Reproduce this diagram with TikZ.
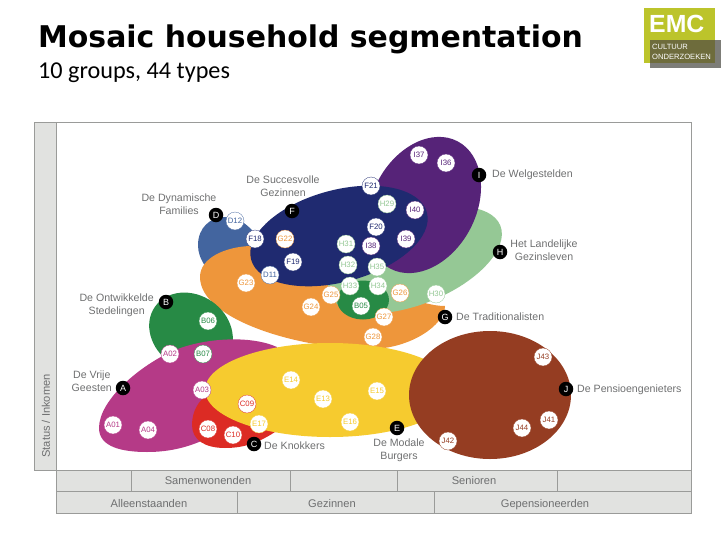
\documentclass[tikz,border=0pt]{standalone}
\usepackage{fontspec}
\setmainfont{Liberation Sans}
\newfontfamily\titlefont{DejaVu Sans}
\newfontfamily\subfont{Carlito}
\definecolor{cA}{HTML}{B53A87}
\definecolor{cB}{HTML}{278A45}
\definecolor{cC}{HTML}{DC2B24}
\definecolor{cD}{HTML}{43659F}
\definecolor{cE}{HTML}{F6CB2F}
\definecolor{cF}{HTML}{1F2A70}
\definecolor{cG}{HTML}{EE963B}
\definecolor{cH}{HTML}{95C895}
\definecolor{cI}{HTML}{562378}
\definecolor{cJ}{HTML}{953D22}
\definecolor{panel}{HTML}{E1E2E0}
\definecolor{rule}{HTML}{9A9B99}
\definecolor{lab}{HTML}{6E6F70}
\definecolor{emc}{HTML}{BCC42B}
\definecolor{emcgray}{HTML}{7D7D78}
\definecolor{emcolive}{HTML}{6E6C3C}
\tikzset{
  x=1pt,y=-1pt,
  band/.style={draw=rule,fill=panel,line width=.8pt},
  bandtext/.style={font=\fontsize{11.1}{13}\selectfont,text=lab,inner sep=0pt},
  lbl/.style={font=\fontsize{10.6}{12.8}\selectfont,text=lab,align=center,inner sep=0pt},
  tag/.style={circle,fill=black,text=white,minimum size=14.5pt,inner sep=0pt,font=\fontsize{9}{9}\selectfont},
  seg/.style={circle,fill=white,draw=#1,line width=.3pt,text=#1,minimum size=18pt,inner sep=0pt,font=\fontsize{7.8}{8}\selectfont},
}
\begin{document}
\begin{tikzpicture}
\useasboundingbox (0,0) rectangle (728,546);
% title
\node[anchor=base west,inner sep=0pt,font=\titlefont\bfseries\fontsize{29.9}{32}\selectfont] (title) at (38,47) {Mosaic household segmentation};
\node[anchor=base west,inner sep=0pt,font=\subfont\fontsize{24.2}{26}\selectfont] (sub) at (38,78) {10 groups, 44 types};
% logo
\fill[emc] (644,8) rectangle (715,63);
\fill[emcgray] (650,40) rectangle (721,68);
\fill[emcolive] (650,40) rectangle (715,63);
\node[anchor=base west,inner sep=0pt,text=white,font=\bfseries\fontsize{24.8}{26}\selectfont] (emclogo) at (649,32) {EMC};
\node[anchor=north west,inner sep=0pt,text=white,align=left,font=\fontsize{7.6}{10}\selectfont] (emcsub) at (652,43.5) {CULTUUR\\ONDERZOEKEN};
% frame
\draw[rule,line width=.9pt] (56,122) -- (691,122) -- (691,470);
\draw[band] (34,122) rectangle (56,470);
\node[bandtext,rotate=90] (status) at (46,416) {Status / Inkomen};
\draw[band] (56,470) rectangle (691,491);
\draw[band] (56,491) rectangle (691,513);
\draw[rule,line width=.8pt] (131,470) -- (131,491) (290,470) -- (290,491) (397,470) -- (397,491) (557,470) -- (557,491) (237,491) -- (237,513) (434,491) -- (434,513);
\node[bandtext] (r1) at (208,481) {Samenwonenden};
\node[bandtext] (r2) at (474,480.5) {Senioren};
\node[bandtext] (r3) at (149,504) {Alleenstaanden};
\node[bandtext] (r4) at (332,504) {Gezinnen};
\node[bandtext] (r5) at (545,505) {Gepensioneerden};
% blobs
\fill[cD] (198,245) .. controls (198,228) and (210,217) .. (225,217) .. controls (245,217) and (258,235) .. (264,250) .. controls (240,262) and (215,262) .. (205,266) .. controls (200,258) and (198,252) .. (198,245) -- cycle;
\fill[cG] (200,277) .. controls (200,258) and (225,247) .. (250,246) .. controls (320,246) and (400,306) .. (445,306) .. controls (445,325) and (410,349) .. (370,349) .. controls (300,349) and (200,320) .. (200,277) -- cycle;
\fill[cH,rotate around={22:(415,260)}] (415,260) ellipse [x radius=92,y radius=44];
\fill[cB] (363,300) ellipse [x radius=26,y radius=19.5];
\fill[cI,rotate around={62:(424,205)}] (424,205) ellipse [x radius=72,y radius=52];
\fill[cF,rotate around={15:(339,236)}] (339,236) ellipse [x radius=91,y radius=46];
\fill[cB,rotate around={-35:(191,332)}] (191,332) ellipse [x radius=44,y radius=37];
\fill[cA] (99,428) .. controls (99,400) and (140,365) .. (175,350) .. controls (205,338) and (250,335) .. (277,347) -- (280,400) -- (210,437) .. controls (190,447) and (170,452) .. (147,452) .. controls (122,452) and (99,447) .. (99,428) -- cycle;
\fill[cC] (192,425) .. controls (192,410) and (200,400) .. (205,397) -- (275,432) .. controls (255,445) and (240,448) .. (225,448) .. controls (205,448) and (192,440) .. (192,425) -- cycle;
\fill[cE] (330,390) ellipse [x radius=125,y radius=47];
\fill[cJ] (490,395) ellipse [x radius=81,y radius=64];
% segment circles
\foreach \n/\x/\y/\c in {
 A01/113/425/cA,A02/170/354/cA,A03/202/390/cA,A04/148/430/cA,
 B05/361/306/cB,B06/208/321/cB,B07/203/354/cB,
 C08/208/429/cC,C09/247/404/cC,C10/233/435/cC,
 D11/270/275/cD,D12/235/221/cD,
 E13/323/399/cE,E14/291/380/cE,E15/377/391/cE,E16/350/422/cE,E17/259/424/cE,
 F18/255/239/cF,F19/293/262/cF,F20/376/227/cF,F21/371/186/cF,
 G22/285/239/cG,G23/246/283/cG,G24/311/307/cG,G25/331/295/cG,G26/400/293/cG,G27/384/317/cG,G28/373/337/cG,
 H29/387/204/cH,H30/436/294/cH,H31/346/244/cH,H32/348/265/cH,H33/350/286/cH,H34/378/286/cH,H35/377/267/cH,
 I36/446/163/cI,I37/419/155/cI,I38/371/246/cI,I39/406/239/cI,I40/415/210/cI,
 J41/549/420/cJ,J42/448/441/cJ,J43/543/357/cJ,J44/522/428/cJ}
 {\node[seg=\c] (\n) at (\x,\y) {\n};}
% group tags
\foreach \n/\x/\y in {A/123/388,B/166/302,C/254/444,D/216/215,E/397/428,F/292/211,G/445/317,H/500/252,I/479/175,J/566/389}
 {\node[tag] (tag\n) at (\x,\y) {\n};}
% group labels
\node[lbl,anchor=east] (lA) at (112,381) {De Vrije\\Geesten};
\node[lbl,anchor=east] (lB) at (154,305) {De Ontwikkelde\\Stedelingen};
\node[lbl,anchor=west] (lC) at (264,445.5) {De Knokkers};
\node[lbl] (lD) at (179,204) {De Dynamische\\Families};
\node[lbl] (lE) at (399,450) {De Modale\\Burgers};
\node[lbl] (lF) at (283,186) {De Succesvolle\\Gezinnen};
\node[lbl,anchor=west] (lG) at (456,317) {De Traditionalisten};
\node[lbl] (lH) at (544,250.5) {Het Landelijke\\Gezinsleven};
\node[lbl,anchor=west] (lI) at (492,175) {De Welgestelden};
\node[lbl,anchor=west] (lJ) at (577,389.5) {De Pensioengenieters};
\end{tikzpicture}
\end{document}
